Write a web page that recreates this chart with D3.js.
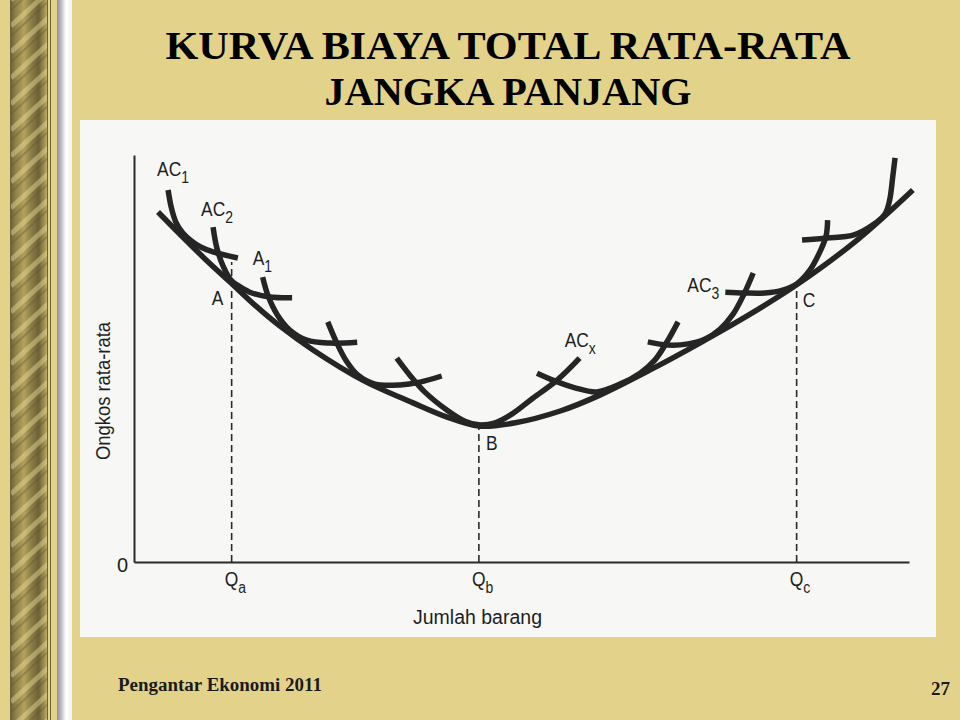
<!DOCTYPE html>
<html lang="id">
<head>
<meta charset="UTF-8">
<title>Kurva Biaya Total Rata-rata Jangka Panjang</title>
<style>
  html, body { margin: 0; padding: 0; background: #e3d38a; }
  svg { display: block; }
  .lbl { font-family: "Liberation Sans", Arial, sans-serif; font-size: 20px; fill: #1e1e1e; }
</style>
</head>
<body>
<div id="slide"></div>
<script src="https://cdn.jsdelivr.net/npm/d3@7"></script>
<script>
// values: [quantity, cost], both on a 0-100 scale
const lac = [[3.1,86.0],[5.9,80.6],[9.2,74.4],[12.5,68.6],[15.6,63.1],[18.8,58.0],[23.1,52.1],
             [29.5,44.7],[36.0,39.1],[40.4,35.6],[44.5,33.4],[49.2,34.2],[55.0,37.1],[60.1,41.0],
             [66.6,47.2],[73.0,53.8],[79.5,60.9],[85.5,68.1],[93.3,79.1],[100.5,91.4]];

// short run curves, left of the minimum
const ac1 = [[4.4,91.4],[4.8,87.2],[5.4,83.5],[6.3,80.8],[7.4,78.9],[8.6,77.4],[10.2,76.2],[13.4,74.7]];
const ac2 = [[10.2,82.3],[10.7,77.1],[11.5,72.7],[12.5,69.3],[13.7,67.6],[15.2,66.1],[17.5,65.1],[20.4,64.9]];
const acA1 = [[16.6,70.0],[17.3,65.4],[18.5,60.7],[20.1,57.0],[22.3,54.5],[25.3,53.8],[28.8,54.0]];
const ac4 = [[25.0,59.0],[26.1,54.1],[27.4,49.4],[28.9,45.9],[31.1,43.7],[34.3,43.5],[36.9,44.2],[39.7,45.7]];
// the one sitting on the minimum
const acx = [[33.9,50.1],[35.6,45.9],[37.5,41.8],[40.4,37.3],[42.7,34.6],[44.5,33.7],[46.6,34.2],
             [48.8,36.4],[51.5,40.3],[54.6,44.7],[57.5,50.1]];
// right of the minimum
const acR1 = [[52.0,46.4],[54.3,44.5],[56.9,42.8],[59.7,41.8],[62.7,43.7],[65.3,46.4],[67.2,49.6],[68.9,54.5],[70.2,59.0]];
const acR2 = [[66.3,54.1],[68.9,53.3],[71.5,53.6],[73.7,54.8],[75.6,57.2],[77.3,60.9],[78.7,65.8],[79.9,71.0]];
const ac3 = [[76.3,66.3],[78.8,66.1],[81.4,66.1],[83.7,66.8],[85.5,68.3],[87.2,71.7],[88.5,76.2],[89.3,80.1],[89.5,84.0]];
const acR4 = [[86.2,79.1],[89.4,79.6],[92.8,80.3],[95.4,82.9],[96.9,85.5],[97.5,88.9],[97.9,94.6],[98.2,99.3]];

const qNames = ["a", "b", "c"];
const qValues = [12.6, 44.5, 85.5];
const pointNames = ["A", "B", "C"];
const pointCost = [68.6, 33.4, 68.1];
const dashTop = [73.7, 33.4, 67.6];

const titleLines = ["KURVA BIAYA TOTAL RATA-RATA", "JANGKA PANJANG"];
const yTitle = "Ongkos rata-rata";
const xTitle = "Jumlah barang";
const footer = "Pengantar Ekonomi 2011";
const pageNo = "27";

const w = 960, h = 720;
const svg = d3.select('#slide').append('svg').attr('width', w).attr('height', h);
const defs = svg.append('defs');

svg.append('rect').attr('width', w).attr('height', h).attr('fill', '#e3d38a');

// ---- left border (rope + silver bar)
const rope = defs.append('linearGradient').attr('id', 'rope');
[[0,'#6f6538'],[0.12,'#8d8049'],[0.35,'#b3a25c'],[0.55,'#8a7d46'],[0.75,'#6c6237'],[0.9,'#9f9152'],[1,'#c4b46c']]
  .forEach(s => rope.append('stop').attr('offset', s[0]).attr('stop-color', s[1]));
const silver = defs.append('linearGradient').attr('id', 'silver');
[[0,'#8e8e99'],[0.25,'#b8b8c1'],[0.6,'#ffffff'],[1,'#f2f2f5']]
  .forEach(s => silver.append('stop').attr('offset', s[0]).attr('stop-color', s[1]));
defs.append('clipPath').attr('id', 'ropeClip')
  .append('rect').attr('x', 11).attr('y', 0).attr('width', 37).attr('height', h);

const border = svg.append('g');
border.append('rect').attr('x', 11).attr('y', 0).attr('width', 37).attr('height', h).attr('fill', 'url(#rope)');
const strands = border.append('g').attr('clip-path', 'url(#ropeClip)');
d3.range(-60, h + 40, 26).forEach(y0 => {
  strands.append('path').attr('d', `M11,${y0 + 34} L48,${y0}`)
    .attr('stroke', '#ecdd98').attr('stroke-width', 5).attr('opacity', 0.45);
  strands.append('path').attr('d', `M11,${y0 + 44} L48,${y0 + 10}`)
    .attr('stroke', '#5f5630').attr('stroke-width', 2).attr('opacity', 0.35);
});
[10.5, 47.5, 50.5].forEach(xx => border.append('line')
  .attr('x1', xx).attr('x2', xx).attr('y1', 0).attr('y2', h)
  .attr('stroke', '#6e6438').attr('stroke-width', 1));
border.append('rect').attr('x', 57).attr('y', 0).attr('width', 15).attr('height', h).attr('fill', 'url(#silver)');

// ---- title
svg.selectAll('text.title')
  .data(titleLines)
  .enter().append('text')
  .attr('class', 'title')
  .attr('x', 508)
  .attr('y', (d, i) => 59 + i * 46)
  .attr('text-anchor', 'middle')
  .attr('textLength', (d, i) => i === 0 ? 685 : 367)
  .attr('lengthAdjust', 'spacingAndGlyphs')
  .attr('font-family', '"Liberation Serif", "Times New Roman", serif')
  .attr('font-weight', 'bold')
  .attr('font-size', 40)
  .attr('fill', '#000')
  .text(d => d);

// ---- scanned figure area
svg.append('rect').attr('x', 80).attr('y', 120).attr('width', 856).attr('height', 517).attr('fill', '#f7f7f5');

const x = d3.scaleLinear().domain([0, 100]).range([134, 909]);
const y = d3.scaleLinear().domain([0, 100]).range([562, 155]);

const chart = svg.append('g');

chart.append('g')
  .attr('transform', `translate(0,${y(0)})`)
  .call(d3.axisBottom(x).tickValues([]).tickSizeOuter(0))
  .select('.domain').attr('stroke', '#2a2a2a').attr('stroke-width', 2);
chart.append('g')
  .attr('transform', `translate(${x(0)},0)`)
  .call(d3.axisLeft(y).tickValues([]).tickSizeOuter(0))
  .select('.domain').attr('stroke', '#2a2a2a').attr('stroke-width', 2);

// dashed guides
chart.selectAll('line.guide')
  .data(qValues)
  .enter().append('line')
  .attr('class', 'guide')
  .attr('x1', d => x(d)).attr('x2', d => x(d))
  .attr('y1', y(0)).attr('y2', (d, i) => y(dashTop[i]))
  .attr('stroke', '#2a2a2a').attr('stroke-width', 1.6)
  .attr('stroke-dasharray', '7,4');

// curves
const line = d3.line()
  .x(d => x(d[0]))
  .y(d => y(d[1]))
  .curve(d3.curveCatmullRom.alpha(0.5));

chart.selectAll('path.curve')
  .data([lac, ac1, ac2, acA1, ac4, acx, acR1, acR2, ac3, acR4])
  .enter().append('path')
  .attr('class', 'curve')
  .attr('d', line)
  .attr('fill', 'none')
  .attr('stroke', '#252525')
  .attr('stroke-width', 5.5)
  .attr('stroke-linecap', 'butt');

// labels (narrow sans like the scan)
function label(px, py, main, sub) {
  const t = chart.append('text').attr('class', 'lbl')
    .attr('transform', `translate(${px},${py}) scale(0.87,1)`);
  t.append('tspan').text(main);
  if (sub) t.append('tspan').attr('dy', 7).attr('font-size', 16).text(sub);
  return t;
}

const at = d => [x(d[0]), y(d[1])];
let p;
p = at(ac1[0]);  label(p[0] - 11, p[1] - 14, 'AC', '1');
p = at(ac2[0]);  label(p[0] - 12, p[1] - 11, 'AC', '2');
p = at(acA1[0]); label(p[0] - 10, p[1] - 12, 'A', '1');
p = at(acx[acx.length - 1]); label(p[0] - 15, p[1] - 11, 'AC', 'x');
p = at(ac3[0]);  label(p[0] - 38, p[1], 'AC', '3');

const pointOffsets = [[-20, 22], [7, 24], [6, 22]];
pointNames.forEach((n, i) => {
  label(x(qValues[i]) + pointOffsets[i][0], y(pointCost[i]) + pointOffsets[i][1], n);
});

qNames.forEach((n, i) => {
  label(x(qValues[i]) - 7, y(0) + 24, 'Q', n);
});

chart.append('text').attr('class', 'lbl')
  .attr('x', x(0) - 6).attr('y', y(0) + 10)
  .attr('text-anchor', 'end')
  .text('0');

chart.append('text').attr('class', 'lbl')
  .attr('x', 477.5).attr('y', 624)
  .attr('text-anchor', 'middle')
  .attr('font-size', 21)
  .attr('textLength', 129).attr('lengthAdjust', 'spacingAndGlyphs')
  .text(xTitle);

chart.append('text').attr('class', 'lbl')
  .attr('transform', 'translate(110,391) rotate(-90)')
  .attr('text-anchor', 'middle')
  .attr('font-size', 21)
  .attr('textLength', 138).attr('lengthAdjust', 'spacingAndGlyphs')
  .text(yTitle);

// ---- footer
svg.append('text')
  .attr('x', 118).attr('y', 691)
  .attr('textLength', 204).attr('lengthAdjust', 'spacingAndGlyphs')
  .attr('font-family', '"Liberation Serif", "Times New Roman", serif')
  .attr('font-weight', 'bold').attr('font-size', 18).attr('fill', '#1a1a1a')
  .text(footer);
svg.append('text')
  .attr('x', 950).attr('y', 695)
  .attr('text-anchor', 'end')
  .attr('font-family', '"Liberation Serif", "Times New Roman", serif')
  .attr('font-weight', 'bold').attr('font-size', 19).attr('fill', '#1a1a1a')
  .text(pageNo);
</script>
</body>
</html>
